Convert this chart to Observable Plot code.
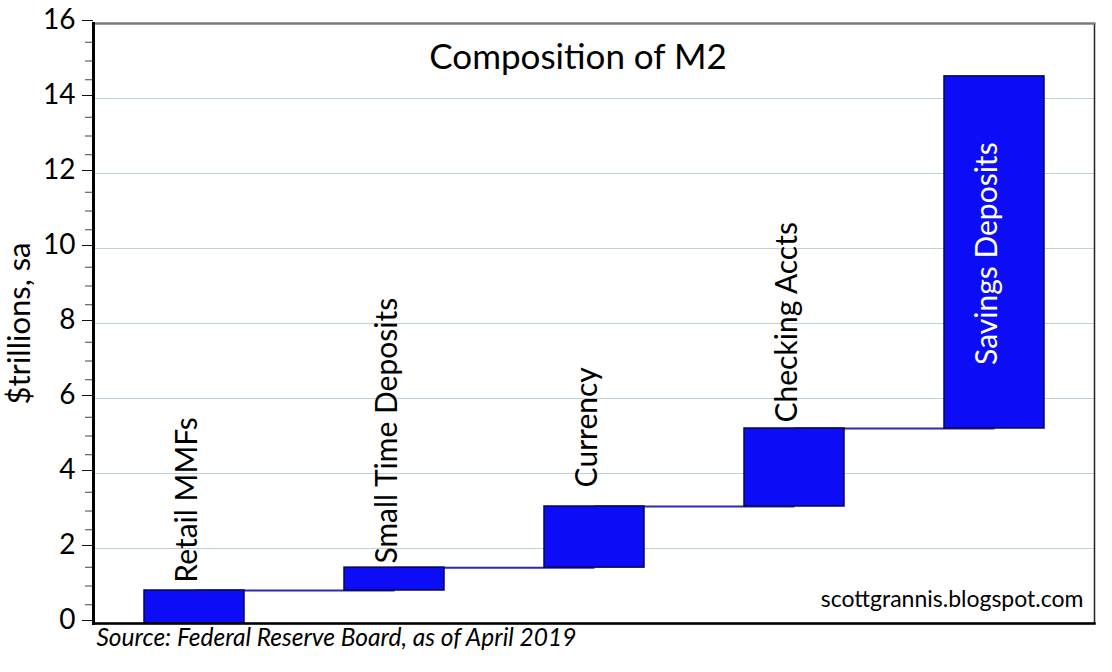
<!DOCTYPE html>
<html><head><meta charset="utf-8">
<script src="https://cdn.jsdelivr.net/npm/d3@7"></script>
<script src="https://cdn.jsdelivr.net/npm/@observablehq/plot@0.6"></script>
<style>body{margin:0;background:#fff}</style>
</head><body><div id="chart"></div>
<script>
const categories = ["Retail MMFs", "Small Time Deposits", "Currency", "Checking Accts", "Savings Deposits"];
const amounts = [0.88, 0.61, 1.63, 2.08, 9.39];          // $ trillions, each component
const labelAt = [1.09, 1.60, 3.63, 5.36, 12.83];         // label start (outside) / label end (inside)
const yTicks = [0, 2, 4, 6, 8, 10, 12, 14, 16];
const minorTicks = [0.5, 1, 1.5, 2.5, 3, 3.5, 4.5, 5, 5.5, 6.5, 7, 7.5, 8.5, 9, 9.5, 10.5, 11, 11.5, 12.5, 13, 13.5, 14.5, 15, 15.5];
const gridTicks = [2, 4, 6, 8, 10, 12, 14];
const title = "Composition of M2";
const yLabel = "$trillions, sa";
const source = "Source: Federal Reserve Board, as of April 2019";
const credit = "scottgrannis.blogspot.com";

let cum = 0;
const rows = categories.map((c, i) => {
  const lo = cum; cum += amounts[i];
  return {cat: c, lo, hi: cum, label: labelAt[i], inside: i === categories.length - 1};
});
const links = rows.slice(0, -1).map((r, i) => ({a: r.cat, b: rows[i + 1].cat, y: r.hi}));

const font = "Lato, 'Noto Sans', sans-serif";

const chart = Plot.plot({
  width: 1112,
  height: 672,
  marginLeft: 93,
  marginRight: 18,
  marginTop: 23,
  marginBottom: 49,
  style: {fontFamily: font, background: "#fff", overflow: "visible"},
  x: {domain: categories, paddingInner: 0.5, paddingOuter: 0.25, axis: null},
  y: {domain: [0, 16], axis: null},
  marks: [
    Plot.gridY(gridTicks, {stroke: "#bcd0dc", strokeOpacity: 1, strokeWidth: 1}),
    Plot.link(links, {x1: "a", x2: "b", y1: "y", y2: "y", stroke: "#2a2ab0", strokeWidth: 2}),
    Plot.barY(rows, {x: "cat", y1: "lo", y2: "hi", fill: "#0c0cf6", stroke: "#08084a", strokeWidth: 1.5}),
    Plot.text(rows.filter(d => !d.inside), {x: "cat", y: "label", text: "cat", rotate: -90, textAnchor: "start", dx: -7, fontSize: 30, fill: "#000"}),
    Plot.text(rows.filter(d => d.inside), {x: "cat", y: "label", text: "cat", rotate: -90, textAnchor: "end", dx: -7, fontSize: 30, fill: "#fff"}),
    Plot.axisY(minorTicks, {tickSize: 8, tickFormat: () => "", stroke: "#444", label: null}),
    Plot.axisY(yTicks, {tickSize: 11, tickPadding: 7, fontSize: 28, dy: -3, stroke: "#111", fill: "#000", label: null}),
    Plot.frame({stroke: "#222", strokeWidth: 1.5}),
    Plot.frame({anchor: "top", stroke: "#777", strokeWidth: 2}),
    Plot.frame({anchor: "left", stroke: "#000", strokeWidth: 3}),
    Plot.frame({anchor: "bottom", stroke: "#000", strokeWidth: 2.5}),
    Plot.text([title], {frameAnchor: "top", dx: -16, dy: 21, fontSize: 35, fill: "#000"}),
    Plot.text([yLabel], {frameAnchor: "left", rotate: -90, textAnchor: "middle", dx: -73, dy: 0, fontSize: 31, fill: "#000"}),
    Plot.text([credit], {frameAnchor: "bottom-right", textAnchor: "end", dx: -11, dy: -17, fontSize: 23, fill: "#000"}),
    Plot.text([source], {frameAnchor: "bottom-left", textAnchor: "start", dx: 3, dy: 22, fontSize: 24.5, fontStyle: "italic", fill: "#000"})
  ]
});
document.getElementById("chart").appendChild(chart);
</script>
</body></html>
